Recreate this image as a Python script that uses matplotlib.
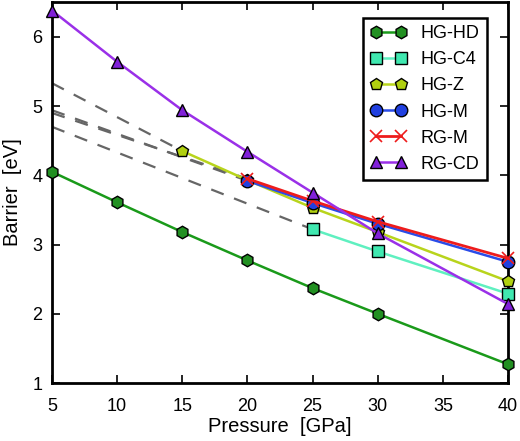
import matplotlib
matplotlib.use('Agg')
import matplotlib.pyplot as plt

plt.rcParams['font.family'] = ['Liberation Sans', 'DejaVu Sans']
plt.rcParams.update({'font.size': 13})

# pressure (GPa) and barrier (eV) per series
p_hd = [5, 10, 15, 20, 25, 30, 40]
e_hd = [4.05, 3.61, 3.18, 2.77, 2.37, 2.00, 1.27]
p_c4 = [25, 30, 40]
e_c4 = [3.22, 2.90, 2.29]
p_z = [15, 20, 25, 30, 40]
e_z = [4.35, 3.93, 3.53, 3.18, 2.47]
p_m = [20, 25, 30, 40]
e_hgm = [3.92, 3.60, 3.30, 2.75]
e_rgm = [3.95, 3.63, 3.33, 2.80]
p_cd = [5, 10, 15, 20, 25, 30, 40]
e_cd = [6.38, 5.64, 4.94, 4.34, 3.75, 3.16, 2.14]

# dashed extrapolations back to 5 GPa
ext_p = [[5, 15], [5, 20], [5, 20], [5, 25]]
ext_e = [[5.33, 4.35], [4.94, 3.92], [4.90, 3.95], [4.70, 3.22]]

series = [
    ('HG-HD', p_hd, e_hd, 'h', '#1a9a1a', '#229022'),
    ('HG-C4', p_c4, e_c4, 's', '#5ff0c0', '#40e8b0'),
    ('HG-Z', p_z, e_z, 'p', '#b8d41c', '#b0d010'),
    ('HG-M', p_m, e_hgm, 'o', '#2a4ce8', '#2040e0'),
    ('RG-M', p_m, e_rgm, 'x', '#ee1c1c', '#ee1c1c'),
    ('RG-CD', p_cd, e_cd, '^', '#9a30e8', '#8020d8'),
]

fig = plt.figure(figsize=(5.2, 4.41), dpi=100)
ax = fig.add_axes([0.1, 0.1315, 0.877, 0.8635])

for xs, ys in zip(ext_p, ext_e):
    ax.plot(xs, ys, '--', color='#666666', lw=1.6, dashes=(6, 5), zorder=1)

for name, xs, ys, mk, lc, fc in series:
    if mk == 'x':
        ax.plot(xs, ys, marker=mk, color=lc, lw=2, ms=9, mew=1.2,
                label=name, clip_on=False, zorder=3)
    else:
        ax.plot(xs, ys, marker=mk, color=lc, lw=1.8, ms=9,
                mfc=fc, mec='black', mew=1.0, label=name,
                clip_on=False, zorder=3)

ax.set_xlim(5, 40)
ax.set_ylim(1, 6.5)
ax.set_xticks([5, 10, 15, 20, 25, 30, 35, 40])
ax.set_yticks([1, 2, 3, 4, 5, 6])
ax.tick_params(direction='in', top=True, right=True, length=6, width=1.2,
               labelsize=13)
ax.tick_params(axis='x', pad=11)
ax.tick_params(axis='y', pad=7)
for s in ax.spines.values():
    s.set_linewidth(2)
ax.set_xlabel('Pressure  [GPa]', fontsize=14.5, labelpad=1)
ax.set_ylabel('Barrier  [eV]', fontsize=14.5, labelpad=7)

leg = ax.legend(loc='upper right', bbox_to_anchor=(0.954, 0.958),
                borderaxespad=0, numpoints=2, fancybox=False,
                edgecolor='black', framealpha=1, fontsize=13,
                handlelength=2.0, labelspacing=0.5)
leg.get_frame().set_linewidth(1.8)

fig.savefig('out.png', dpi=100)
